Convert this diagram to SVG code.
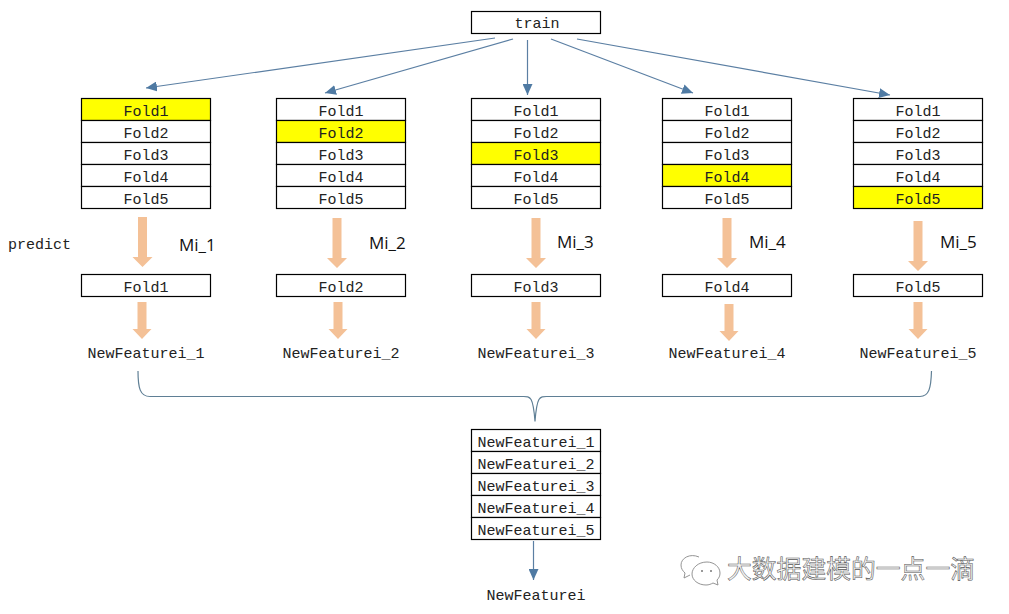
<svg xmlns="http://www.w3.org/2000/svg" width="1009" height="614" viewBox="0 0 1009 614">
<style>
.c{fill:#fff;stroke:#000;stroke-width:1.2}
.y{fill:#ffff00;stroke:#000;stroke-width:1.2}
text{font-family:"Liberation Mono",monospace;font-size:15px;fill:#222}
.m{text-anchor:middle}
.k{font-family:"Open Sans",sans-serif;font-size:17px;fill:#111}
.b{stroke:#5b7fa3;stroke-width:1.2;fill:none;marker-end:url(#h)}
.o{fill:#f4c197}
.w{font-family:"Noto Sans CJK SC",sans-serif;font-size:24.8px;fill:#f4f4f4;stroke:#555;stroke-width:.55}
</style>
<defs>
<marker id="h" markerUnits="userSpaceOnUse" markerWidth="12" markerHeight="10" refX="11" refY="5" orient="auto"><path d="M0 0L11 5L0 10Z" fill="#4f7aa3"/></marker>
<path id="oa" class="o" d="M-4.5 0H4.5V40H10L0 50L-10 40H-4.5Z"/>
<path id="ob" class="o" d="M-4.5 0H4.5V27H9.5L0 37L-9.5 27H-4.5Z"/>
</defs>
<rect width="1009" height="614" fill="#fff"/>
<g id="connectors">
<path class="b" d="M495 38L146 88"/>
<path class="b" d="M513 39L325 93"/>
<path class="b" d="M527.500 40V95"/>
<path class="b" d="M551 39L693 93"/>
<path class="b" d="M577 39L890 95"/>
<path class="b" d="M533.500 541V580"/>
<path d="M138 371C138 388 140 396.500 150 396.500H522C530 396.500 533 395 535 421.500C537 395 540 396.500 548 396.500H920C929 396.500 931 388 931.500 371" fill="none" stroke="#5f7f95" stroke-width="1.2"/>
<use href="#oa" x="142.500" y="217"/><use href="#oa" x="337" y="218"/><use href="#oa" x="536" y="218"/><use href="#oa" x="727" y="218"/><use href="#oa" x="918" y="221"/>
<use href="#ob" x="142" y="302"/><use href="#ob" x="338" y="302"/><use href="#ob" x="536" y="302"/><use href="#ob" x="729" y="304"/><use href="#ob" x="918" y="302"/>
</g>
<g id="train"><rect class="c" x="471.500" y="11.500" width="129" height="22"/><text class="m" x="537" y="28">train</text></g>
<g id="folds-1">
<rect class="y" x="81.500" y="98.500" width="129" height="22"/><rect class="c" x="81.500" y="120.500" width="129" height="22"/><rect class="c" x="81.500" y="142.500" width="129" height="22"/><rect class="c" x="81.500" y="164.500" width="129" height="22"/><rect class="c" x="81.500" y="186.500" width="129" height="22"/>
<text class="m" x="146" y="116">Fold1</text><text class="m" x="146" y="138">Fold2</text><text class="m" x="146" y="160">Fold3</text><text class="m" x="146" y="182">Fold4</text><text class="m" x="146" y="204">Fold5</text>
</g>
<g id="folds-2">
<rect class="c" x="276.500" y="98.500" width="129" height="22"/><rect class="y" x="276.500" y="120.500" width="129" height="22"/><rect class="c" x="276.500" y="142.500" width="129" height="22"/><rect class="c" x="276.500" y="164.500" width="129" height="22"/><rect class="c" x="276.500" y="186.500" width="129" height="22"/>
<text class="m" x="341" y="116">Fold1</text><text class="m" x="341" y="138">Fold2</text><text class="m" x="341" y="160">Fold3</text><text class="m" x="341" y="182">Fold4</text><text class="m" x="341" y="204">Fold5</text>
</g>
<g id="folds-3">
<rect class="c" x="471.500" y="98.500" width="129" height="22"/><rect class="c" x="471.500" y="120.500" width="129" height="22"/><rect class="y" x="471.500" y="142.500" width="129" height="22"/><rect class="c" x="471.500" y="164.500" width="129" height="22"/><rect class="c" x="471.500" y="186.500" width="129" height="22"/>
<text class="m" x="536" y="116">Fold1</text><text class="m" x="536" y="138">Fold2</text><text class="m" x="536" y="160">Fold3</text><text class="m" x="536" y="182">Fold4</text><text class="m" x="536" y="204">Fold5</text>
</g>
<g id="folds-4">
<rect class="c" x="662.500" y="98.500" width="129" height="22"/><rect class="c" x="662.500" y="120.500" width="129" height="22"/><rect class="c" x="662.500" y="142.500" width="129" height="22"/><rect class="y" x="662.500" y="164.500" width="129" height="22"/><rect class="c" x="662.500" y="186.500" width="129" height="22"/>
<text class="m" x="727" y="116">Fold1</text><text class="m" x="727" y="138">Fold2</text><text class="m" x="727" y="160">Fold3</text><text class="m" x="727" y="182">Fold4</text><text class="m" x="727" y="204">Fold5</text>
</g>
<g id="folds-5">
<rect class="c" x="853.500" y="98.500" width="129" height="22"/><rect class="c" x="853.500" y="120.500" width="129" height="22"/><rect class="c" x="853.500" y="142.500" width="129" height="22"/><rect class="c" x="853.500" y="164.500" width="129" height="22"/><rect class="y" x="853.500" y="186.500" width="129" height="22"/>
<text class="m" x="918" y="116">Fold1</text><text class="m" x="918" y="138">Fold2</text><text class="m" x="918" y="160">Fold3</text><text class="m" x="918" y="182">Fold4</text><text class="m" x="918" y="204">Fold5</text>
</g>
<g id="predict"><text x="8" y="249">predict</text></g>
<g id="models">
<text class="k" x="179" y="251">Mi_1</text><text class="k" x="369" y="249">Mi_2</text><text class="k" x="557" y="248">Mi_3</text><text class="k" x="749" y="248">Mi_4</text><text class="k" x="940" y="248">Mi_5</text>
</g>
<g id="pred-1"><rect class="c" x="81.500" y="274.500" width="129" height="22"/><text class="m" x="146" y="292">Fold1</text></g>
<g id="pred-2"><rect class="c" x="276.500" y="274.500" width="129" height="22"/><text class="m" x="341" y="292">Fold2</text></g>
<g id="pred-3"><rect class="c" x="471.500" y="274.500" width="129" height="22"/><text class="m" x="536" y="292">Fold3</text></g>
<g id="pred-4"><rect class="c" x="662.500" y="274.500" width="129" height="22"/><text class="m" x="727" y="292">Fold4</text></g>
<g id="pred-5"><rect class="c" x="853.500" y="274.500" width="129" height="22"/><text class="m" x="918" y="292">Fold5</text></g>
<g id="features">
<text class="m" x="146" y="358">NewFeaturei_1</text><text class="m" x="341" y="358">NewFeaturei_2</text><text class="m" x="536" y="358">NewFeaturei_3</text><text class="m" x="727" y="358">NewFeaturei_4</text><text class="m" x="918" y="358">NewFeaturei_5</text>
</g>
<g id="merged">
<rect class="c" x="471.500" y="429.500" width="129" height="22"/><rect class="c" x="471.500" y="451.500" width="129" height="22"/><rect class="c" x="471.500" y="473.500" width="129" height="22"/><rect class="c" x="471.500" y="495.500" width="129" height="22"/><rect class="c" x="471.500" y="517.500" width="129" height="22"/>
<text class="m" x="536" y="447">NewFeaturei_1</text><text class="m" x="536" y="469">NewFeaturei_2</text><text class="m" x="536" y="491">NewFeaturei_3</text><text class="m" x="536" y="513">NewFeaturei_4</text><text class="m" x="536" y="535">NewFeaturei_5</text>
</g>
<g id="result"><text class="m" x="536" y="600">NewFeaturei</text></g>
<g id="watermark">
<path d="M699 557C690 553 681 558 681 565C681 569 683 571 685 573L684 578L690 575" fill="none" stroke="#888" stroke-width=".9"/>
<path d="M707 562C698 562 692 568 692 574C692 580 698 585 706 585C709 585 711 584 713 583L718 585L717 580C719 578 720 576 720 573C720 567 714 562 707 562Z" fill="#fff" stroke="#888" stroke-width=".9"/>
<circle cx="702" cy="571" r="1" fill="#777"/><circle cx="711" cy="571" r="1" fill="#777"/>
<text class="w" x="727" y="578">大数据建模的一点一滴</text>
</g>
</svg>
